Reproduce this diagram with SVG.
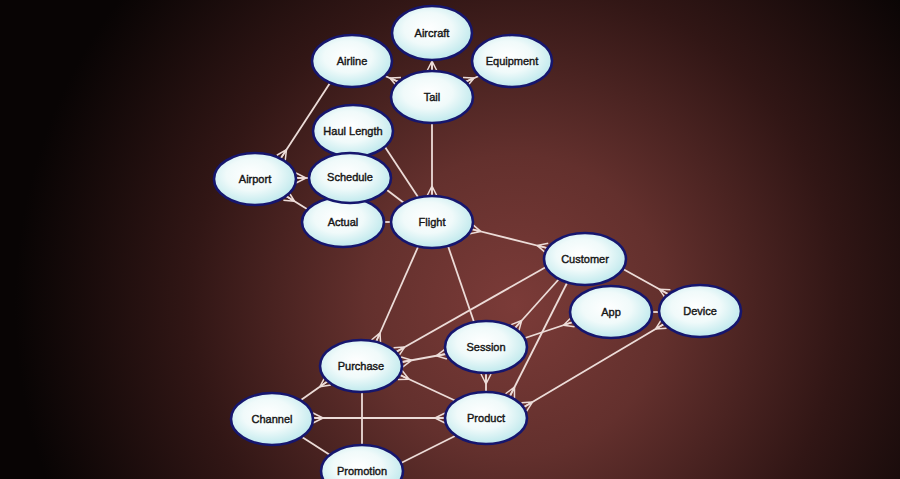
<svg xmlns="http://www.w3.org/2000/svg" width="900" height="479" viewBox="0 0 900 479">
<defs>
<radialGradient id="bg" gradientUnits="userSpaceOnUse" cx="515" cy="305" r="500">
<stop offset="0" stop-color="#7b3b38"/>
<stop offset="0.3" stop-color="#63302d"/>
<stop offset="0.65" stop-color="#311615"/>
<stop offset="1" stop-color="#080404"/>
</radialGradient>
<radialGradient id="nodefill" cx="0.45" cy="0.42" r="0.6">
<stop offset="0" stop-color="#ffffff"/>
<stop offset="0.5" stop-color="#f0fafa"/>
<stop offset="1" stop-color="#bce8ec"/>
</radialGradient>
<marker id="crow" viewBox="-12 -7 14 14" refX="0" refY="0" markerWidth="14" markerHeight="14" markerUnits="userSpaceOnUse" orient="auto-start-reverse">
<path d="M-10,0 L0,-5 M-10,0 L0,5 M-10,0 L0,0" fill="none" stroke="#ecdcd8" stroke-width="1.5"/>
</marker>
</defs>
<style>
.node ellipse{fill:url(#nodefill);stroke:#16166e;stroke-width:2.6}
.node text{font-family:"Liberation Sans",Arial,sans-serif;font-size:11px;fill:#151515;stroke:#151515;stroke-width:0.4;text-anchor:middle}
.edges line{stroke:#ecdcd8;stroke-width:1.8;fill:none}
.me{marker-end:url(#crow)}
.ms{marker-start:url(#crow)}
.mb{marker-start:url(#crow);marker-end:url(#crow)}
</style>
<rect x="0" y="0" width="900" height="479" fill="url(#bg)"/>
<g id="connectors" class="edges">
<line x1="432" y1="61" x2="432" y2="71" class="me"/>
<line x1="385" y1="76" x2="399" y2="82" class="me"/>
<line x1="479" y1="76" x2="465" y2="82" class="me"/>
<line x1="330" y1="83" x2="281" y2="158" class="me"/>
<line x1="432" y1="123" x2="432" y2="196" class="me"/>
<line x1="385" y1="147" x2="418" y2="197"/>
<line x1="309" y1="178" x2="296" y2="178" class="me"/>
<line x1="387" y1="190" x2="404" y2="203"/>
<line x1="307" y1="209" x2="286" y2="196" class="me"/>
<line x1="384" y1="222" x2="391" y2="222"/>
<line x1="471" y1="229" x2="547" y2="248" class="mb"/>
<line x1="623" y1="269" x2="668" y2="294" class="me"/>
<line x1="652" y1="312" x2="659" y2="312"/>
<line x1="546" y1="267" x2="396" y2="352" class="me"/>
<line x1="559" y1="279" x2="515" y2="328" class="me"/>
<line x1="567" y1="283" x2="510" y2="396" class="me"/>
<line x1="525" y1="338" x2="573" y2="322" class="me"/>
<line x1="664" y1="324" x2="524" y2="407" class="mb"/>
<line x1="418" y1="247" x2="376" y2="342" class="me"/>
<line x1="448" y1="246" x2="474" y2="322"/>
<line x1="446" y1="354" x2="402" y2="362" class="mb"/>
<line x1="486" y1="374" x2="486" y2="392" class="ms"/>
<line x1="456" y1="401" x2="400" y2="375" class="me"/>
<line x1="301" y1="400" x2="328" y2="381" class="me"/>
<line x1="313" y1="418" x2="445" y2="418" class="mb"/>
<line x1="302" y1="437" x2="330" y2="455"/>
<line x1="362" y1="392" x2="362" y2="445"/>
<line x1="401" y1="463" x2="455" y2="436"/>
</g>
<g id="node-aircraft" class="node"><ellipse cx="432" cy="33" rx="40" ry="27"/><text x="432" y="37">Aircraft</text></g>
<g id="node-airline" class="node"><ellipse cx="352" cy="61" rx="40" ry="26"/><text x="352" y="65">Airline</text></g>
<g id="node-equipment" class="node"><ellipse cx="512" cy="61" rx="40" ry="26"/><text x="512" y="65">Equipment</text></g>
<g id="node-tail" class="node"><ellipse cx="432" cy="97" rx="41" ry="26"/><text x="432" y="101">Tail</text></g>
<g id="node-haul-length" class="node"><ellipse cx="353" cy="131" rx="40" ry="26"/><text x="353" y="135">Haul Length</text></g>
<g id="node-airport" class="node"><ellipse cx="255" cy="179" rx="41" ry="26"/><text x="255" y="183">Airport</text></g>
<g id="node-actual" class="node"><ellipse cx="343" cy="222" rx="41" ry="25"/><text x="343" y="226">Actual</text></g>
<g id="node-schedule" class="node"><ellipse cx="350" cy="178" rx="41" ry="25"/><text x="350" y="181">Schedule</text></g>
<g id="node-flight" class="node"><ellipse cx="432" cy="222" rx="41" ry="26"/><text x="432" y="226">Flight</text></g>
<g id="node-customer" class="node"><ellipse cx="585" cy="259" rx="41" ry="26"/><text x="585" y="263">Customer</text></g>
<g id="node-app" class="node"><ellipse cx="611" cy="312" rx="41" ry="26"/><text x="611" y="316">App</text></g>
<g id="node-device" class="node"><ellipse cx="700" cy="311" rx="41" ry="26"/><text x="700" y="315">Device</text></g>
<g id="node-session" class="node"><ellipse cx="486" cy="347" rx="41" ry="26"/><text x="486" y="351">Session</text></g>
<g id="node-purchase" class="node"><ellipse cx="361" cy="366" rx="41" ry="26"/><text x="361" y="370">Purchase</text></g>
<g id="node-channel" class="node"><ellipse cx="272" cy="419" rx="41" ry="26"/><text x="272" y="423">Channel</text></g>
<g id="node-product" class="node"><ellipse cx="486" cy="418" rx="41" ry="26"/><text x="486" y="422">Product</text></g>
<g id="node-promotion" class="node"><ellipse cx="362" cy="471" rx="41" ry="26"/><text x="362" y="475">Promotion</text></g>
</svg>
